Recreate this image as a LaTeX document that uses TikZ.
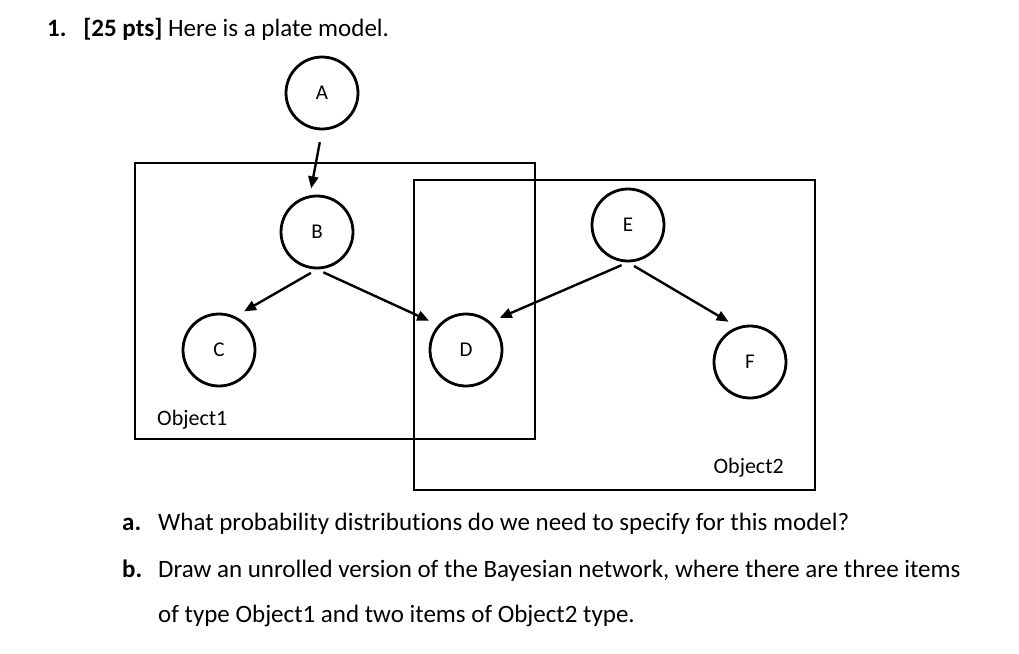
\documentclass[tikz,border=0pt]{standalone}
\usepackage{fontspec}
\setmainfont{Carlito}[Ligatures={NoCommon}]
\usepackage{tikz}
\usetikzlibrary{arrows.meta,positioning,calc}

\begin{document}
\begin{tikzpicture}[
  x=1pt, y=-1pt,
  var/.style={draw, circle, line width=2.8pt, minimum size=72pt, inner sep=0pt, font=\fontsize{21}{24}\selectfont},
  plate/.style={draw, line width=1.4pt},
  fl/.style={-{Triangle[length=12pt, width=10pt]}, line width=2.4pt, shorten <=7pt, shorten >=10pt},
  txt/.style={anchor=base west, inner sep=0pt, font=\fontsize{25}{30}\selectfont},
  lbl/.style={inner sep=0pt, font=\fontsize{22}{26}\selectfont},
]
\useasboundingbox (0,0) rectangle (1019,653);

% plates
\draw[plate] (135,163) rectangle (535,439);
\draw[plate] (414,180) rectangle (815,490);
\node[lbl, anchor=base west] (o1) at (157,425) {Object1};
\node[lbl, anchor=base east] (o2) at (784,473) {Object2};

% variables
\node[var] (A) at (322,93) {A};
\node[var] (B) at (317,232) {B};
\node[var] (C) at (219,350) {C};
\node[var] (D) at (466,350) {D};
\node[var] (E) at (628,225) {E};
\node[var] (F) at (750,362) {F};

\draw[fl, shorten <=12pt, shorten >=7pt] (A.south) -- (B.101);
\foreach \a/\b in {B.south/C.64,B.south/D.138,E.south/D.49,E.south/F.110} \draw[fl] (\a) -- (\b);

% question text
\node[txt] (q) at (47,36) {\textbf{1.}\hspace{0.67em}\textbf{[25 pts]} Here is a plate model.};
\node[txt] (qa) at (122,530) {\textbf{a.}};
\node[txt] (ta) at (158,530) {What probability distributions do we need to specify for this model?};
\node[txt] (qb) at (122,577) {\textbf{b.}};
\node[txt] (tb) at (158,577) {Draw an unrolled version of the Bayesian network, where there are three items};
\node[txt] (tc) at (158,622) {of type Object1 and two items of Object2 type.};
\end{tikzpicture}
\end{document}
